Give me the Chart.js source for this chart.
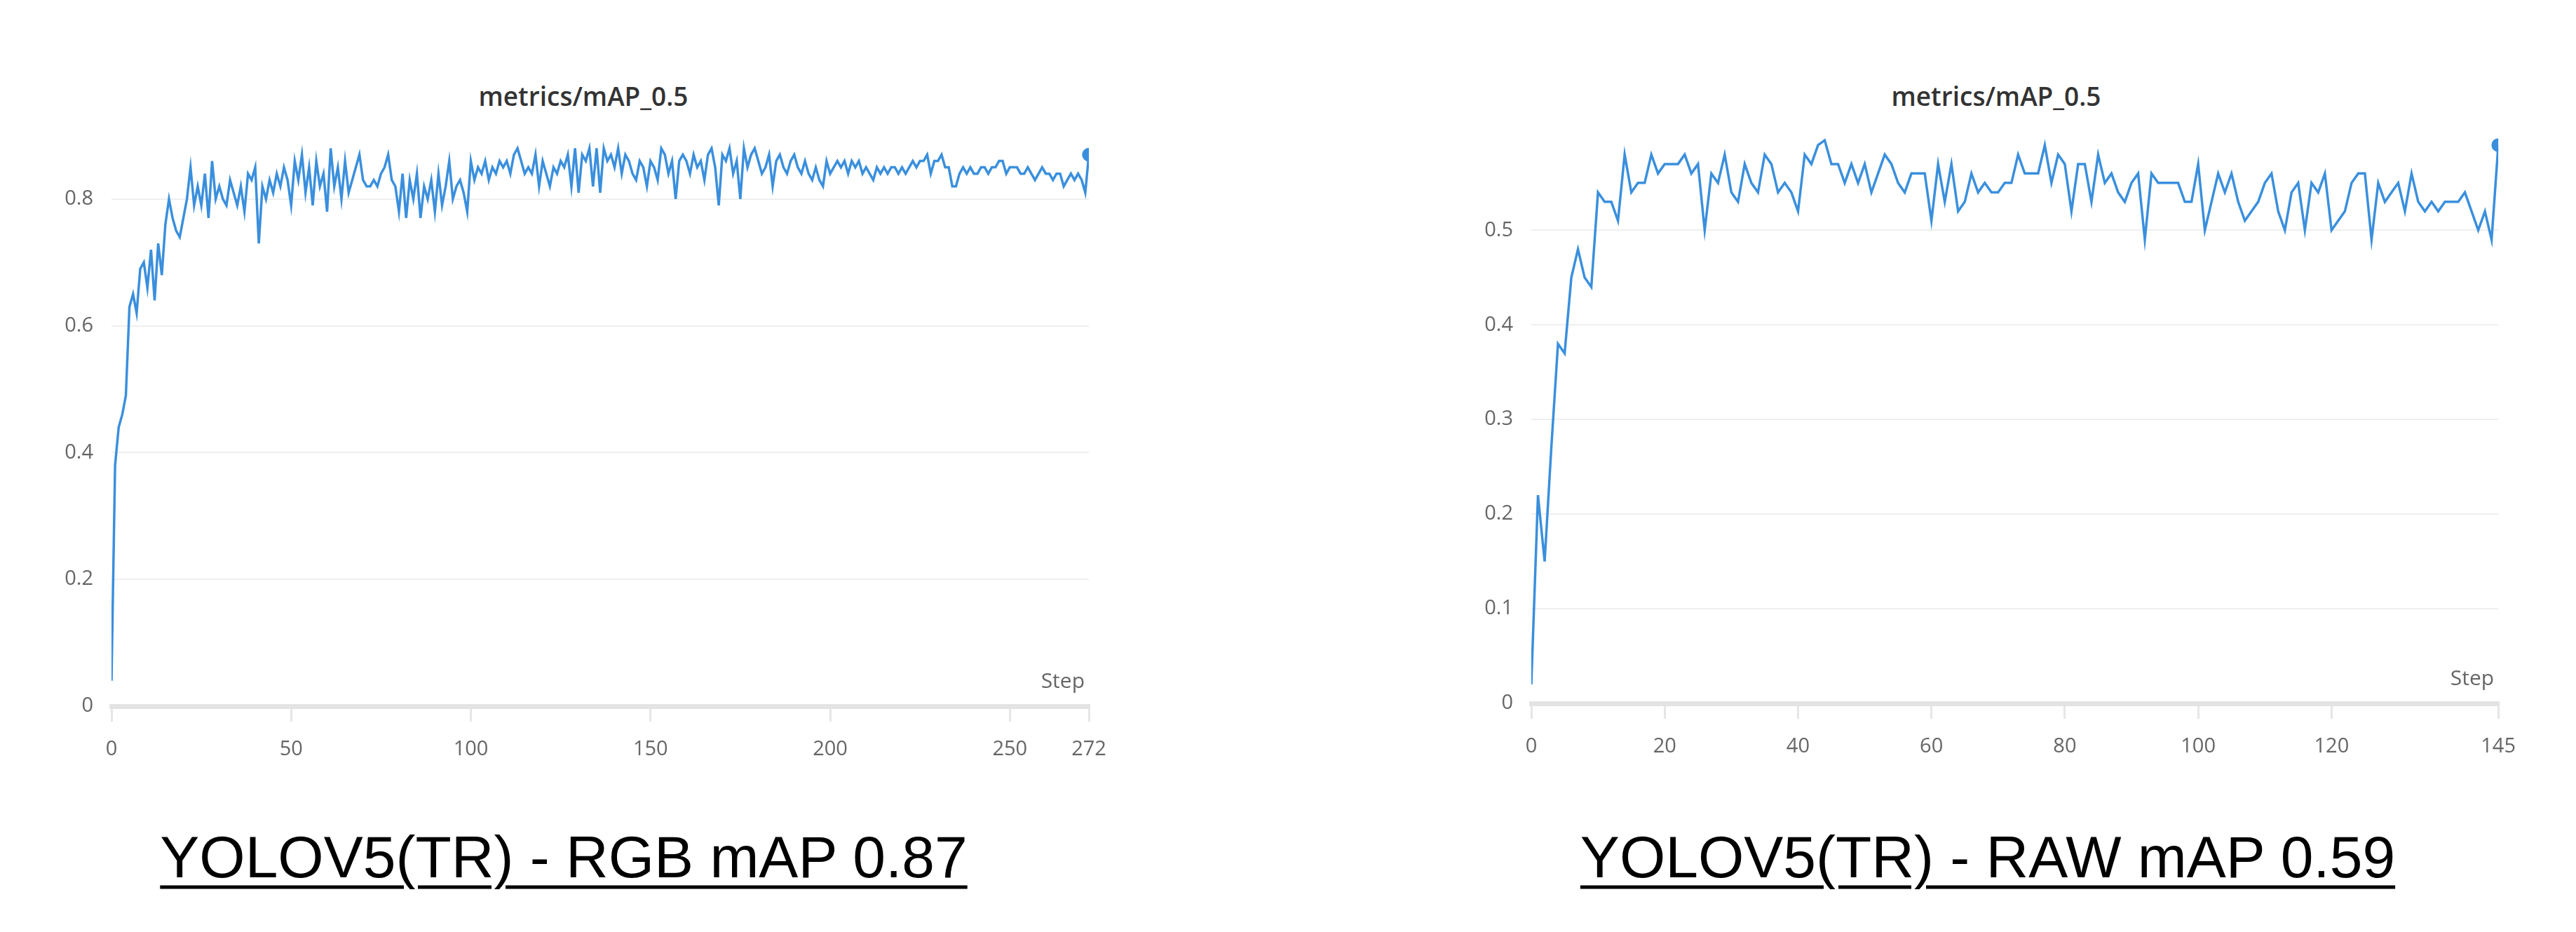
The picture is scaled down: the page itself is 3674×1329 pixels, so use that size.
<!DOCTYPE html>
<html><head><meta charset="utf-8">
<script src="https://cdn.jsdelivr.net/npm/chart.js@4"></script>
<style>
body{margin:0;width:3674px;height:1329px;background:#fff;position:relative;overflow:hidden;font-family:"Liberation Sans",Arial,sans-serif}
.t{position:absolute;transform:translate(-50%,-50%);font-family:"Open Sans",sans-serif;font-weight:600;font-size:37px;color:#333;white-space:nowrap}
.cap{position:absolute;transform:translate(-50%,-50%);font-size:84px;color:#000;text-decoration:underline;text-decoration-thickness:5px;text-underline-offset:12px;white-space:nowrap}
.c{position:absolute}
</style></head><body>
<div class="t" style="left:832px;top:136px">metrics/mAP_0.5</div>
<div class="t" style="left:2847px;top:136px">metrics/mAP_0.5</div>
<div class="cap" style="left:804px;top:1222px">YOLOV5(TR) - RGB mAP 0.87</div>
<div class="cap" style="left:2835px;top:1222px">YOLOV5(TR) - RAW mAP 0.59</div>
<canvas id="c1" class="c" width="1560" height="960" style="left:40px;top:150px"></canvas>
<canvas id="c2" class="c" width="1540" height="960" style="left:2070px;top:150px"></canvas>
<script>
const rgbMap = [
.04,.38,.44,.46,.49,.63,.65,.62,.69,.70,
.66,.72,.64,.73,.68,.76,.80,.77,.75,.74,
.77,.80,.85,.79,.82,.79,.84,.77,.86,.80,
.82,.80,.79,.83,.81,.79,.82,.78,.84,.83,
.85,.73,.82,.80,.83,.81,.84,.82,.85,.83,
.79,.86,.83,.87,.81,.85,.79,.86,.82,.84,
.78,.88,.82,.85,.80,.86,.81,.83,.85,.87,
.83,.82,.82,.83,.82,.84,.85,.87,.83,.82,
.78,.84,.77,.83,.80,.84,.77,.82,.80,.83,
.78,.84,.79,.82,.86,.80,.82,.83,.81,.78,
.86,.83,.85,.84,.86,.83,.85,.84,.86,.85,
.86,.84,.87,.88,.86,.84,.85,.84,.87,.82,
.86,.84,.82,.85,.84,.86,.85,.87,.82,.88,
.81,.87,.86,.88,.82,.88,.81,.88,.86,.87,
.85,.88,.84,.87,.86,.84,.83,.86,.85,.82,
.86,.85,.83,.88,.87,.84,.86,.80,.86,.87,
.86,.84,.87,.85,.86,.83,.87,.88,.85,.79,
.87,.86,.88,.84,.86,.80,.88,.85,.87,.88,
.86,.84,.85,.87,.82,.86,.87,.85,.84,.86,
.87,.85,.84,.86,.84,.83,.85,.83,.82,.86,
.84,.85,.86,.85,.86,.84,.86,.85,.86,.84,
.85,.84,.83,.85,.84,.85,.84,.85,.85,.84,
.85,.84,.85,.86,.85,.86,.86,.87,.84,.86,
.86,.87,.85,.85,.82,.82,.84,.85,.84,.85,
.84,.84,.85,.85,.84,.85,.85,.86,.86,.84,
.85,.85,.85,.84,.84,.85,.84,.83,.84,.85,
.84,.84,.83,.84,.84,.82,.83,.84,.83,.84,
.83,.81,.87];
const rawMap = [
.02,.22,.15,.27,.38,.37,.45,.48,.45,.44,
.54,.53,.53,.51,.58,.54,.55,.55,.58,.56,
.57,.57,.57,.58,.56,.57,.50,.56,.55,.58,
.54,.53,.57,.55,.54,.58,.57,.54,.55,.54,
.52,.58,.57,.59,.595,.57,.57,.55,.57,.55,
.57,.54,.56,.58,.57,.55,.54,.56,.56,.56,
.51,.57,.53,.57,.52,.53,.56,.54,.55,.54,
.54,.55,.55,.58,.56,.56,.56,.59,.55,.58,
.57,.52,.57,.57,.53,.58,.55,.56,.54,.53,
.55,.56,.49,.56,.55,.55,.55,.55,.53,.53,
.57,.50,.53,.56,.54,.56,.53,.51,.52,.53,
.55,.56,.52,.50,.54,.55,.50,.55,.54,.56,
.50,.51,.52,.55,.56,.56,.49,.55,.53,.54,
.55,.52,.56,.53,.52,.53,.52,.53,.53,.53,
.54,.52,.50,.52,.49,.59];
const rgbTicks = {min:0,max:272,step:50};
const rawTicks = {min:0,max:145,step:20};

Chart.defaults.font.family = '"Open Sans", sans-serif';
Chart.defaults.color = '#666';
const stepLabel = {id:'stepLabel',afterDraw(ch){const a=ch.chartArea,c=ch.ctx;c.save();c.font='30px "Open Sans"';c.fillStyle='#666';c.textAlign='right';c.textBaseline='bottom';c.fillText('Step',a.right-6,a.bottom-20);c.restore();}};

function make(id, data, xt, ymax, ystep, yw, pad, xh){
  const pts = data.map((v,i)=>({x:i,y:v}));
  const last = pts.length-1;
  new Chart(document.getElementById(id),{
    type:'line',
    data:{datasets:[{data:pts,borderColor:'#3a8fdd',backgroundColor:'#3a8fdd',borderWidth:3.5,
      pointRadius:c=>c.dataIndex===last?8:0,pointHoverRadius:0,tension:0}]},
    options:{responsive:false,animation:false,devicePixelRatio:1,
      layout:{padding:pad},
      plugins:{legend:{display:false},tooltip:{enabled:false}},
      scales:{
        x:{type:'linear',min:xt.min,max:xt.max,
          afterFit(s){s.height=xh;},
          ticks:{stepSize:xt.step,font:{size:29},padding:22,maxRotation:0,color:'#666'},
          grid:{drawOnChartArea:false,drawTicks:true,tickLength:22,color:'#e6e6e6',lineWidth:3},
          border:{color:'#e3e3e3',width:7}},
        y:{min:0,max:ymax,
          afterFit(s){s.width=yw;},
          ticks:{stepSize:ystep,font:{size:29},padding:26,color:'#666',
            callback:v=>(v>ymax-ystep/2+1e-9)?'':(Math.round(v*10)/10).toString()},
          grid:{drawTicks:false,color:c=>(c.tick&&c.tick.value>ymax-ystep/2+1e-9)||(c.tick&&c.tick.value===0)?'rgba(0,0,0,0)':'#efefef',lineWidth:2},
          border:{display:false}}
      }},
    plugins:[stepLabel]
  });
}
make('c1', rgbMap, rgbTicks, 0.9, 0.2, 119, {top:35,right:47,left:0,bottom:0}, 103);
make('c2', rawMap, rawTicks, 0.6, 0.1, 114, {top:43,right:44,left:0,bottom:0}, 107);
</script>
</body></html>
